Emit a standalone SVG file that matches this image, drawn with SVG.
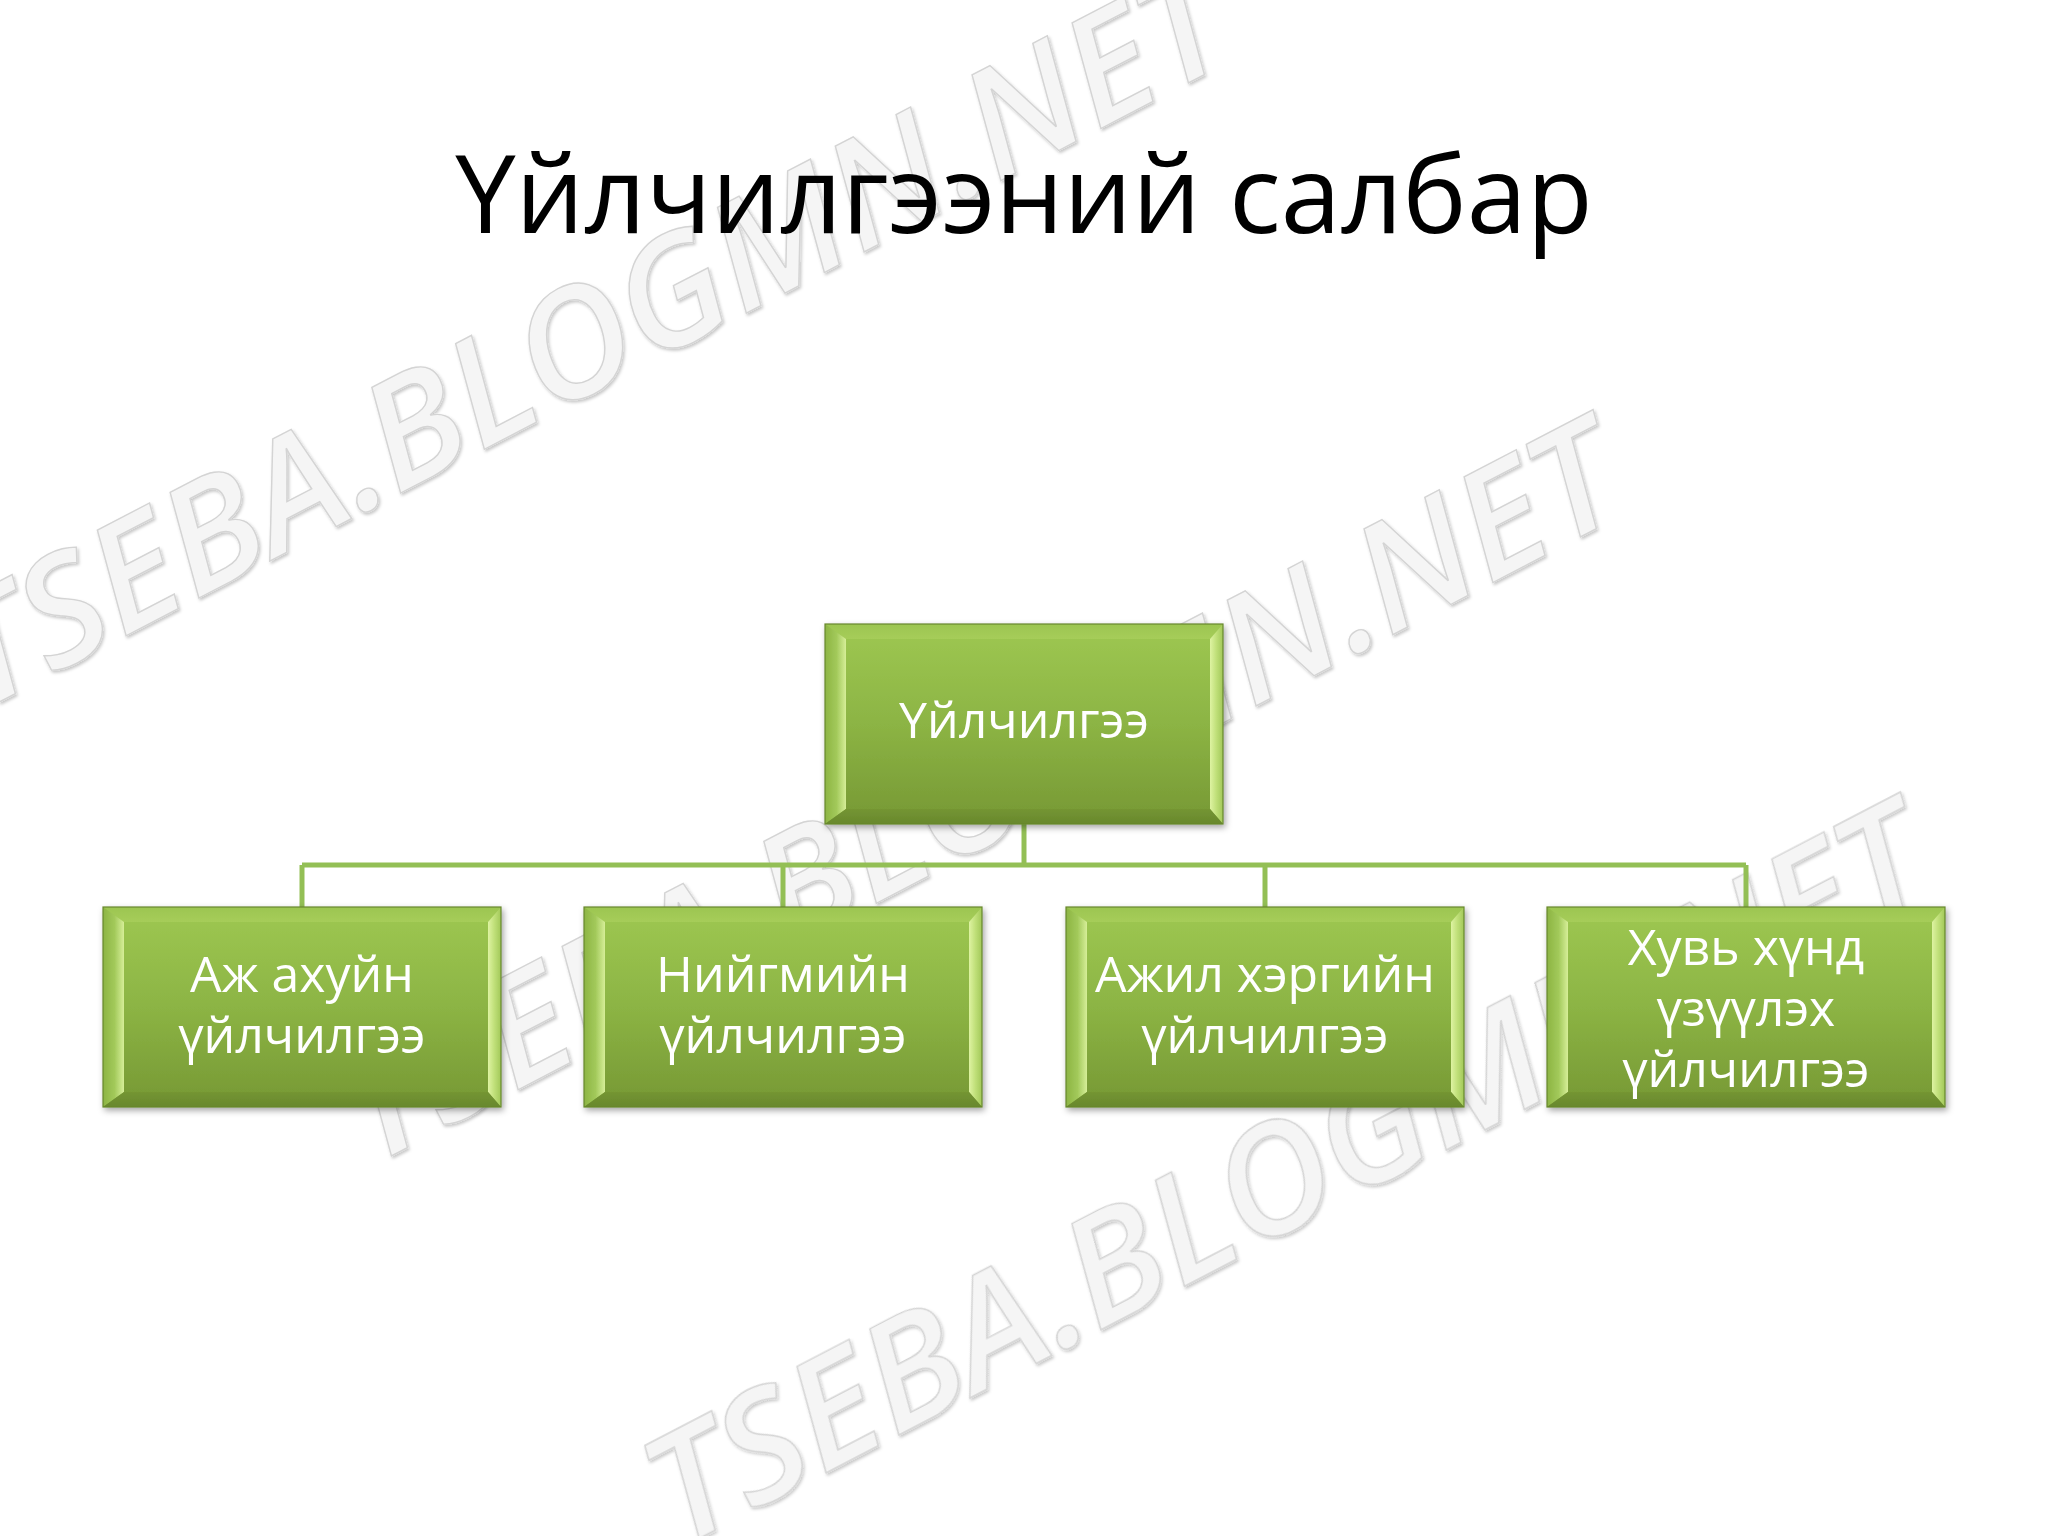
<svg xmlns="http://www.w3.org/2000/svg" xmlns:xlink="http://www.w3.org/1999/xlink" width="2048" height="1536" viewBox="0 0 2048 1536">
  <style>
    .title { font-family: "Open Sans", "Noto Sans", "DejaVu Sans", sans-serif; font-size: 108px; fill: #000000; text-anchor: middle; }
    .label { font-family: "Open Sans", "Noto Sans", "DejaVu Sans", sans-serif; font-size: 50px; fill: #ffffff; text-anchor: middle; }
    .wm { font-family: "Open Sans", "Noto Sans", "DejaVu Sans", sans-serif; font-size: 150px; font-style: italic; font-weight: 600; fill: #f5f5f5; stroke: #d4d4d4; stroke-width: 1.4; }
    .conn { fill: none; stroke: #93bf55; stroke-width: 5; }
  </style>
  <defs>
    <linearGradient id="gMain" x1="0" y1="0" x2="0" y2="1">
      <stop offset="0" stop-color="#9ec852"/>
      <stop offset="0.5" stop-color="#8cb444"/>
      <stop offset="1" stop-color="#769834"/>
    </linearGradient>
    <linearGradient id="gTop" x1="0" y1="0" x2="0" y2="1">
      <stop offset="0" stop-color="#9cc550"/>
      <stop offset="1" stop-color="#a6cd5a"/>
    </linearGradient>
    <linearGradient id="gLeft" x1="0" y1="0" x2="1" y2="0">
      <stop offset="0" stop-color="#8cb443"/>
      <stop offset="0.55" stop-color="#a2c95a"/>
      <stop offset="1" stop-color="#d6ee98"/>
    </linearGradient>
    <linearGradient id="gRight" x1="0" y1="0" x2="1" y2="0">
      <stop offset="0" stop-color="#def3a2"/>
      <stop offset="0.5" stop-color="#bfdf78"/>
      <stop offset="1" stop-color="#a2c859"/>
    </linearGradient>
    <linearGradient id="gBottom" x1="0" y1="0" x2="0" y2="1">
      <stop offset="0" stop-color="#749532"/>
      <stop offset="1" stop-color="#68882d"/>
    </linearGradient>
    <filter id="shadow" x="-5%" y="-5%" width="112%" height="115%">
      <feDropShadow dx="2" dy="3" stdDeviation="3" flood-color="#000000" flood-opacity="0.35"/>
    </filter>
    <filter id="emboss" x="-5%" y="-20%" width="110%" height="140%">
      <feDropShadow dx="1.5" dy="2" stdDeviation="1.5" flood-color="#000000" flood-opacity="0.22"/>
    </filter>
    <g id="box">
      <rect x="0" y="0" width="398" height="200" fill="url(#gMain)"/>
      <polygon points="0,0 398,0 385,15 21,15" fill="url(#gTop)"/>
      <polygon points="0,0 21,15 21,185 0,200" fill="url(#gLeft)"/>
      <polygon points="398,0 398,200 385,185 385,15" fill="url(#gRight)"/>
      <polygon points="0,200 21,185 385,185 398,200" fill="url(#gBottom)"/>
      <rect x="0" y="0" width="398" height="200" fill="none" stroke="#67872c" stroke-width="1.2"/>
    </g>
  </defs>

  <rect width="2048" height="1536" fill="#ffffff"/>

  <g id="watermarks" filter="url(#emboss)">
    <text class="wm" transform="translate(-20,712) rotate(-27.5)" textLength="1420" lengthAdjust="spacingAndGlyphs">TSEBA.BLOGMN.NET</text>
    <text class="wm" transform="translate(372,1166) rotate(-27.5)" textLength="1420" lengthAdjust="spacingAndGlyphs">TSEBA.BLOGMN.NET</text>
    <text class="wm" transform="translate(680,1549) rotate(-27.5)" textLength="1420" lengthAdjust="spacingAndGlyphs">TSEBA.BLOGMN.NET</text>
  </g>

  <g id="title">
    <text class="title" x="1024" y="233">Үйлчилгээний салбар</text>
  </g>

  <g id="connectors">
    <path class="conn" d="M1024,823 V865"/>
    <path class="conn" d="M302,865 H1746"/>
    <path class="conn" d="M302,865 V907"/>
    <path class="conn" d="M783,865 V907"/>
    <path class="conn" d="M1265,865 V907"/>
    <path class="conn" d="M1746,865 V907"/>
  </g>

  <g id="node-root">
    <use xlink:href="#box" href="#box" x="825" y="624" filter="url(#shadow)"/>
    <text class="label" x="1024" y="738">Үйлчилгээ</text>
  </g>
  <g id="node-economy">
    <use xlink:href="#box" href="#box" x="103" y="907" filter="url(#shadow)"/>
    <text class="label" x="302" y="992">Аж ахуйн</text>
    <text class="label" x="302" y="1053">үйлчилгээ</text>
  </g>
  <g id="node-social">
    <use xlink:href="#box" href="#box" x="584" y="907" filter="url(#shadow)"/>
    <text class="label" x="783" y="992">Нийгмийн</text>
    <text class="label" x="783" y="1053">үйлчилгээ</text>
  </g>
  <g id="node-business">
    <use xlink:href="#box" href="#box" x="1066" y="907" filter="url(#shadow)"/>
    <text class="label" x="1265" y="992">Ажил хэргийн</text>
    <text class="label" x="1265" y="1053">үйлчилгээ</text>
  </g>
  <g id="node-personal">
    <use xlink:href="#box" href="#box" x="1547" y="907" filter="url(#shadow)"/>
    <text class="label" x="1746" y="965">Хувь хүнд</text>
    <text class="label" x="1746" y="1026">үзүүлэх</text>
    <text class="label" x="1746" y="1087">үйлчилгээ</text>
  </g>
</svg>
